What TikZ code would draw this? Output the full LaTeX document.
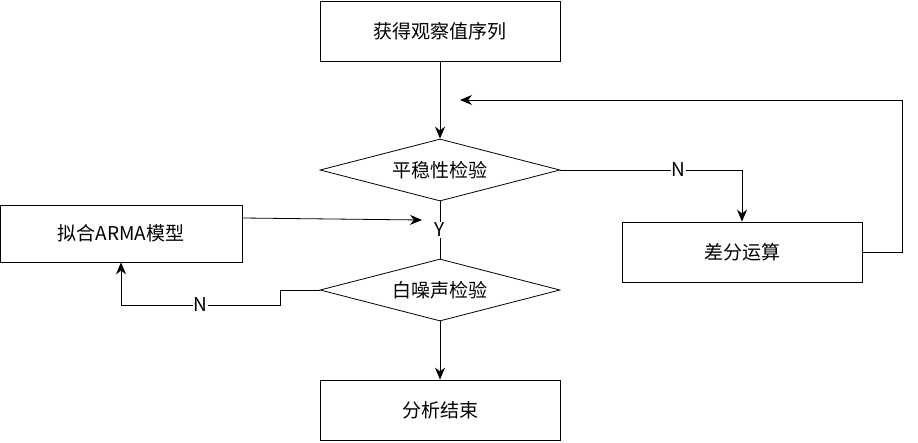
\documentclass[tikz,border=0pt]{standalone}
\usepackage{fontspec}
\setmainfont{Noto Sans CJK SC}
\usetikzlibrary{shapes.geometric,arrows.meta}
\begin{document}
\begin{tikzpicture}[
    x=1pt, y=-1pt,
    every node/.style={font=\fontsize{19pt}{22pt}\selectfont},
    box/.style={rectangle, draw=black, thick, minimum width=240pt, minimum height=60pt, inner sep=0pt},
    check/.style={diamond, draw=black, thick, minimum width=240pt, minimum height=60pt, aspect=4, inner sep=0pt},
    arr/.style={-{Stealth[length=12pt,width=10pt]}, thick},
    lbl/.style={fill=white, inner sep=1pt}
]
\useasboundingbox (0,0) rectangle (918,442);

% --- Nodes ---
\node[box] (obs) at (440,31) {获得观察值序列};
\node[check, minimum height=62pt] (stat) at (440,170) {平稳性检验};
\node[box, minimum width=242pt, minimum height=57pt] (arma) at (121,233.5) {拟合ARMA模型};
\node[box] (diff) at (742,252) {差分运算};
\node[check, minimum height=62pt] (white) at (440,290) {白噪声检验};
\node[box] (fin) at (440,410) {分析结束};

\coordinate (back) at (460,100);
\coordinate (join) at (422,220);

% --- Connectors ---
\draw[arr] (obs) -- (stat);
\draw[arr] (stat.east) -- node[lbl, pos=0.65] {N} (742,170) -- (diff.north);
\draw[arr] (diff.east) -- (902,252) -- (902,100) -- (back);
\draw[thick] (stat.south) -- node[lbl] {Y} (white.north);
\draw[arr] (arma.east |- 0,218) -- (join);
\draw[arr] (white.west) -- (280,290) -- (280,305) -- node[lbl] {N} (121,305) -- (arma.south);
\draw[arr] (white) -- (fin);
\end{tikzpicture}
\end{document}
